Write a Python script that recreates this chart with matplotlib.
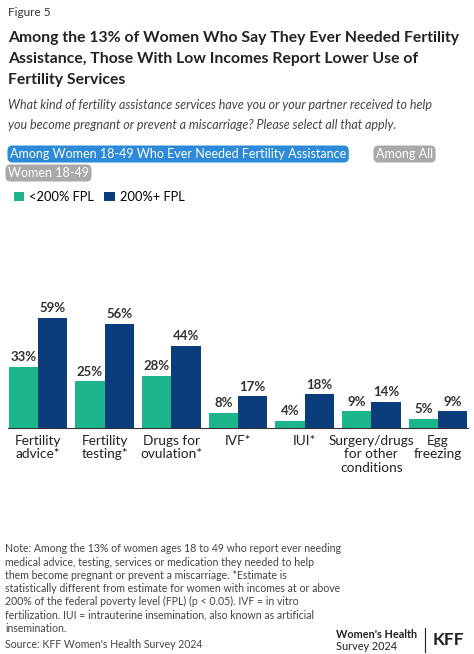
import matplotlib
matplotlib.use("Agg")
import matplotlib.pyplot as plt
import numpy as np

plt.rcParams['font.family'] = ['Lato', 'DejaVu Sans']

categories = ["Fertility\nadvice*", "Fertility\ntesting*", "Drugs for\novulation*", "IVF*", "IUI*",
              "Surgery/drugs\nfor other\nconditions", "Egg\nfreezing"]
low = [33, 25, 28, 8, 4, 9, 5]
high = [59, 56, 44, 17, 18, 14, 9]
series = ["<200% FPL", "200%+ FPL"]
c_low = "#1DB58C"
c_high = "#0B3D7D"

fig = plt.figure(figsize=(4.74, 6.54), dpi=100)
W, H = 474, 654
def fy(y): return 1 - y / H
def fx(x): return x / W

fig.text(fx(8), fy(12), "Figure 5", fontsize=8.5, color="#333333", va="center")
for i, line in enumerate(["Among the 13% of Women Who Say They Ever Needed Fertility",
                          "Assistance, Those With Low Incomes Report Lower Use of",
                          "Fertility Services"]):
    fig.text(fx(8), fy(38 + i * 21), line, fontsize=11.3, fontweight="bold", color="#222222", va="center")
for i, line in enumerate(["What kind of fertility assistance services have you or your partner received to help",
                          "you become pregnant or prevent a miscarriage? Please select all that apply."]):
    fig.text(fx(8), fy(105 + i * 20), line, fontsize=9.0, style="italic", color="#444444", va="center")

fig.text(fx(10), fy(154), "Among Women 18-49 Who Ever Needed Fertility Assistance", fontsize=9.0, color="white", va="center",
         bbox=dict(boxstyle="round,pad=0.2,rounding_size=0.4", fc="#2C8AD9", ec="none"))
fig.text(fx(376), fy(154), "Among All", fontsize=9.0, color="white", va="center",
         bbox=dict(boxstyle="round,pad=0.2,rounding_size=0.4", fc="#A9A9A9", ec="none"))
fig.text(fx(8), fy(173), "Women 18-49", fontsize=9.0, color="white", va="center",
         bbox=dict(boxstyle="round,pad=0.2,rounding_size=0.4", fc="#A9A9A9", ec="none"))

ax = fig.add_axes([fx(8), fy(428), fx(460), (428 - 307) / H])
x = np.arange(len(categories))
w = 0.44
b1 = ax.bar(x - w / 2, low, w, color=c_low, label=series[0])
b2 = ax.bar(x + w / 2, high, w, color=c_high, label=series[1])
for bars, vals in ((b1, low), (b2, high)):
    for r, v in zip(bars, vals):
        ax.text(r.get_x() + r.get_width() / 2, v + 2, f"{v}%", ha="center", va="bottom", fontsize=9.5,
                fontweight="bold", color="#333333")
ax.set_xlim(-0.45, len(categories) - 0.55)
ax.set_ylim(0, 65)
ax.set_yticks([])
ax.set_xticks(x)
ax.set_xticklabels(categories, fontsize=9.8, color="#222222", linespacing=1.15)
ax.tick_params(axis="x", length=0, pad=5)
for s in ["top", "right", "left"]:
    ax.spines[s].set_visible(False)
ax.spines["bottom"].set_color("#333333")
ax.spines["bottom"].set_linewidth(0.8)

fig.legend(handles=[b1, b2], labels=series, loc="center left", bbox_to_anchor=(fx(2), fy(197)),
           ncol=2, frameon=False, fontsize=9.3, handlelength=0.8, handleheight=0.8,
           handletextpad=0.4, columnspacing=0.8)

note = ["Note: Among the 13% of women ages 18 to 49 who report ever needing",
        "medical advice, testing, services or medication they needed to help",
        "them become pregnant or prevent a miscarriage. *Estimate is",
        "statistically different from estimate for women with incomes at or above",
        "200% of the federal poverty level (FPL) (p < 0.05). IVF = in vitro",
        "fertilization. IUI = intrauterine insemination, also known as artificial",
        "insemination."]
for i, line in enumerate(note):
    fig.text(fx(5), fy(549 + i * 13.2), line, fontsize=7.6, color="#444444", va="center")
fig.text(fx(5), fy(645), "Source: KFF Women's Health Survey 2024", fontsize=7.6, color="#444444", va="center")
fig.text(fx(336), fy(634), "Women's Health", fontsize=7.8, fontweight="bold", color="#222222", va="center")
fig.text(fx(336), fy(646), "Survey 2024", fontsize=7.8, color="#222222", va="center")
fig.add_artist(plt.Line2D([fx(425), fx(425)], [fy(628), fy(652)], color="#222222", lw=0.8))
fig.text(fx(433), fy(640), "KFF", fontsize=12.5, fontweight="bold", color="#222222", va="center")

fig.savefig("out.png", dpi=100)
